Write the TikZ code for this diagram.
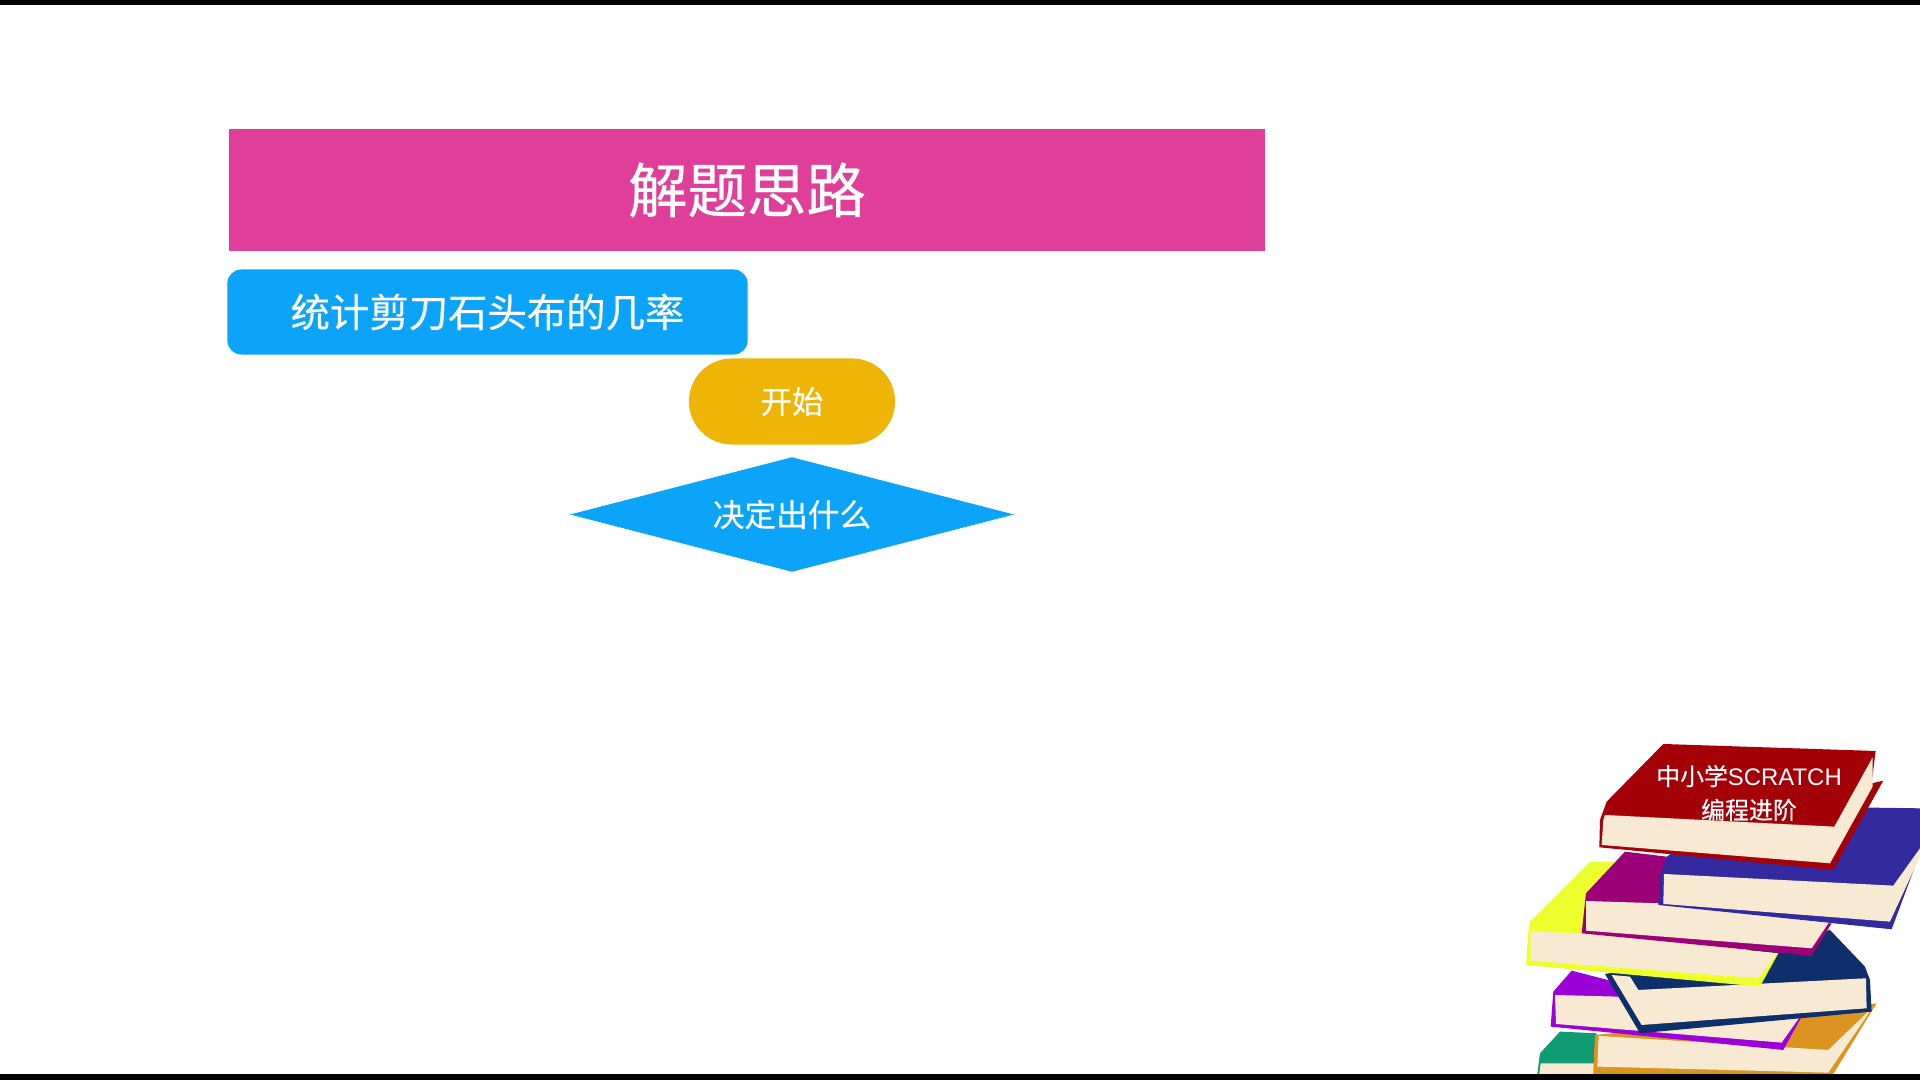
\documentclass[tikz,border=0pt]{standalone}
\usepackage{fontspec}
\setmainfont{Noto Sans CJK SC}[FakeBold=0.35]
\newfontfamily\latinlabel{Liberation Sans}
\usepackage{tikz}
\usetikzlibrary{shapes.geometric}
\definecolor{titlepink}{HTML}{DF3F98}
\definecolor{skyblue}{HTML}{0CA4F9}
\definecolor{startyellow}{HTML}{EEB507}
\definecolor{bookpage}{HTML}{F8EAD2}
\definecolor{bookred}{HTML}{A30008}
\definecolor{bookblue}{HTML}{342A9F}
\definecolor{bookmagenta}{HTML}{9C0078}
\definecolor{booklime}{HTML}{EEFF2E}
\definecolor{booknavy}{HTML}{0E2F6A}
\definecolor{bookpurple}{HTML}{9C00D8}
\definecolor{bookorange}{HTML}{DC9420}
\definecolor{bookgreen}{HTML}{0F9A72}
\tikzstyle{title} = [rectangle, minimum width=10.36cm, minimum height=1.22cm, inner sep=0pt, text centered, text=white, fill=titlepink, font=\fontsize{16.9pt}{20pt}\selectfont]
\tikzstyle{subtitle} = [rectangle, rounded corners=0.14cm, minimum width=5.2cm, minimum height=0.85cm, inner sep=0pt, text centered, text=white, fill=skyblue, font=\fontsize{11.2pt}{14pt}\selectfont]
\tikzstyle{startstop} = [rectangle, rounded corners=0.429cm, minimum width=2.06cm, minimum height=0.86cm, inner sep=0pt, text centered, text=white, fill=startyellow, font=\fontsize{8.9pt}{11pt}\selectfont]
\tikzstyle{decision} = [diamond, shape aspect=3.86, minimum width=4.44cm, minimum height=1.15cm, inner sep=0pt, text centered, text=white, fill=skyblue, font=\fontsize{9pt}{11pt}\selectfont]
\tikzstyle{booklabel} = [align=center, inner sep=0pt, text=white, font=\fontsize{6.8pt}{9.6pt}\selectfont]
\tikzstyle{bar} = [fill=black]
\begin{document}
\begin{tikzpicture}[x=0.01cm, y=-0.01cm]
            \useasboundingbox (0,0) rectangle (1920,1080);
            \fill [white] (0,0) rectangle (1920,1080);

            \node [title] at (747,190) (heading) {解题思路};
            \node [subtitle] at (487.5,312) (question) {统计剪刀石头布的几率};
            \node [startstop] at (792,401.5) (start) {开始};
            \node [decision] at (792,514.5) (decision1) {决定出什么};

            \begin{scope}[shift={(1500,720)}, scale=0.3333]
            \fill [bookgreen] (112,1062) -- (120,1000) -- (180,935) -- (290,940) -- (290,1062) -- cycle;
            \fill [bookpage] (122,1030) -- (290,1030) -- (290,1062) -- (118,1062) -- cycle;

            \fill [bookorange] (280,1050) -- (285,945) -- (900,885) -- (1130,850) -- (1000,1062) -- (280,1062) -- cycle;
            \fill [bookpage] (296,948) -- (985,990) -- (1118,862) -- (985,1058) -- (292,1040) -- cycle;

            \fill [bookpurple] (152,920) -- (160,815) -- (215,752) -- (400,800) -- (905,890) -- (850,990) -- cycle;
            \fill [bookpage] (165,825) -- (350,830) -- (900,890) -- (845,968) -- (168,912) -- cycle;

            \fill [booknavy] (315,762) -- (420,940) -- (1115,875) -- (1110,780) -- (1095,740) -- (990,630) -- (700,700) -- cycle;
            \fill [bookpage] (335,765) -- (425,915) -- (1100,865) -- (1098,775) -- (415,810) -- (390,770) -- cycle;

            \fill [booklime] (78,735) -- (85,635) -- (90,605) -- (270,425) -- (345,425) -- (345,650) -- (835,700) -- (780,800) -- cycle;
            \fill [bookpage] (92,635) -- (245,640) -- (830,700) -- (775,775) -- (92,722) -- cycle;

            \fill [bookmagenta] (245,640) -- (258,520) -- (375,395) -- (500,410) -- (500,600) -- (995,610) -- (935,708) -- cycle;
            \fill [bookpage] (258,543) -- (480,550) -- (985,610) -- (935,685) -- (258,632) -- cycle;

            \fill [bookblue] (475,555) -- (480,470) -- (500,410) -- (590,350) -- (900,260) -- (1260,265) -- (1260,400) -- (1175,628) -- cycle;
            \fill [bookpage] (492,462) -- (1180,497) -- (1260,385) -- (1260,410) -- (1170,605) -- (490,552) -- cycle;

            \fill [bookred] (298,382) -- (300,300) -- (320,245) -- (490,72) -- (1127,93) -- (1115,190) -- (1150,182) -- (1000,450) -- cycle;
            \fill [bookpage] (315,285) -- (1003,320) -- (1118,112) -- (1118,200) -- (990,430) -- (305,375) -- (310,300) -- cycle;
            \end{scope}

            \node [booklabel] at (1749,793) (booktitle) {中小学{\latinlabel SCRATCH}\\编程进阶};

            \fill [bar] (0,0) rectangle (1920,5);
            \fill [bar] (0,1074) rectangle (1920,1080);
\end{tikzpicture}
\end{document}
